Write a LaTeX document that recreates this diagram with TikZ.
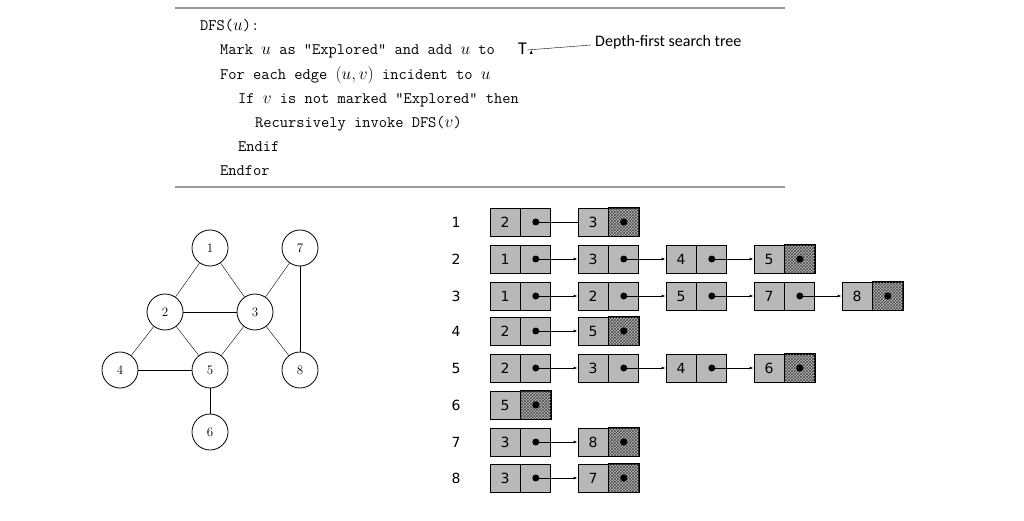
\documentclass[tikz,border=0pt]{standalone}
\usepackage{fontspec}
\newfontfamily\cellfont{DejaVu Sans}
\newfontfamily\notefont{Carlito}
\usetikzlibrary{patterns,arrows.meta}
\begin{document}
\begin{tikzpicture}[x=1pt,y=-1pt,
  vert/.style={circle,draw,thick,minimum size=36pt,inner sep=0pt,font=\fontsize{13}{15}\selectfont},
  cellbox/.style={draw,thick,fill=black!28,minimum width=30pt,minimum height=28pt,inner sep=0pt,font=\cellfont\fontsize{14}{16}\selectfont},
  ptr/.style={-{Latex[length=4pt,width=3pt]},thick},
  code/.style={anchor=base west,inner sep=0pt,font=\ttfamily\fontsize{16}{18}\selectfont},
  rowlab/.style={font=\cellfont\fontsize{14}{16}\selectfont},
  rulel/.style={draw=black!40,line width=1.5pt}]
\useasboundingbox (0,0) rectangle (1024,521);
% pseudocode
\draw[rulel] (175,8) -- (785,8);
\draw[rulel] (175,187) -- (785,187);
\node[code] (l1) at (200,31) {DFS($u$):};
\node[code] (l2) at (220,55) {Mark $u$ as "Explored" and add $u$ to};
\node[anchor=base west,inner sep=0pt,font=\notefont\fontsize{18}{20}\selectfont] (T) at (518,55) {T};
\node[code] (l3) at (220,80) {For each edge $(u,v)$ incident to $u$};
\node[code] (l4) at (238,104) {If $v$ is not marked "Explored" then};
\node[code] (l5) at (255,128) {Recursively invoke DFS($v$)};
\node[code] (l6) at (238,152) {Endif};
\node[code] (l7) at (220,176) {Endfor};
\node[anchor=west,inner sep=0pt,font=\notefont\fontsize{16}{18}\selectfont] (note) at (595,42) {Depth-first search tree};
\draw[-{Latex[length=4pt,width=3pt]}] (note.west) ++(-4,3) coordinate (ns) -- (T.east |- 0,50) ++(4,0);
% graph
\node[vert] (n1) at (210,248) {1};
\node[vert] (n7) at (300,248) {7};
\node[vert] (n2) at (165,312) {2};
\node[vert] (n3) at (255,312) {3};
\node[vert] (n4) at (120,370) {4};
\node[vert] (n5) at (210,370) {5};
\node[vert] (n8) at (300,370) {8};
\node[vert] (n6) at (210,432) {6};
\foreach \a/\b in {1/2,1/3,2/3,2/4,2/5,3/5,3/7,3/8,4/5,5/6,7/8}
  \draw (n\a) -- (n\b);
% adjacency lists
\foreach \r/\y/\lst in {1/222/{2,3},2/259/{1,3,4,5},3/296/{1,2,5,7,8},4/331/{2,5},5/368/{2,3,4,6},6/405/{5},7/442/{3,8},8/478/{3,7}}{
  \node[rowlab] (lab\r) at (456,\y) {\r};
  \foreach \v [count=\i] in \lst {
    \pgfmathsetmacro\xx{505+88*(\i-1)}
    \node[cellbox] (v\r-\i) at (\xx,\y) {\v};
    \node[cellbox,anchor=west] (p\r-\i) at (v\r-\i.east) {};
    \fill (p\r-\i.center) circle (3.5pt);
  }
}
% last pointer cells hatched
\foreach \r/\n in {1/2,2/4,3/5,4/2,5/4,6/1,7/2,8/2}{
  \fill[pattern=crosshatch,pattern color=black!70] (p\r-\n.south west) rectangle (p\r-\n.north east);
  \draw[thick] (p\r-\n.south west) rectangle (p\r-\n.north east);
  \fill (p\r-\n.center) circle (3.5pt);
}
% connectors
\draw[thick] (p1-1.center) -- (v1-2.west);
\foreach \r/\n in {2/3,3/4,4/1,5/3,7/1,8/1}{
  \foreach \i in {1,...,\n}{
    \pgfmathtruncatemacro\j{\i+1}
    \draw[ptr] (p\r-\i.center) -- (v\r-\j.west);
  }
}
\end{tikzpicture}
\end{document}
